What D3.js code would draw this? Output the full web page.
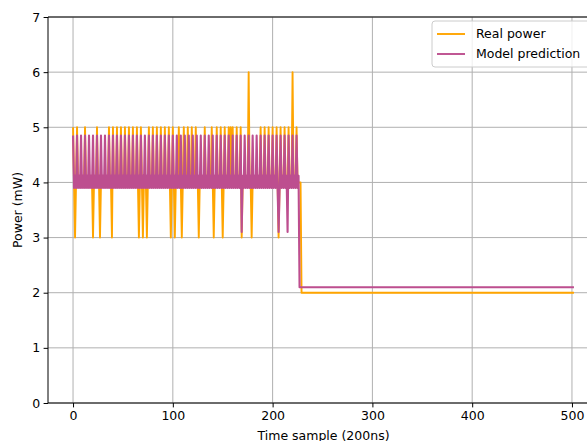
<!DOCTYPE html>
<html>
<head>
<meta charset="utf-8">
<script src="https://cdn.jsdelivr.net/npm/d3@7"></script>
<style>
  html, body { margin: 0; padding: 0; background: #fff; }
  svg { display: block; }
  text { font-family: "DejaVu Sans", sans-serif; }
</style>
</head>
<body>
<div id="chart"></div>
<script>
// ---- Data ----
// Real power, samples 0..228 (one value per sample)
const realPowerHead = [
  5,4,3,4,5,4,4,4,4,4,4,4,5,4,4,4,4,4,4,4,
  3,4,4,4,5,4,4,3,4,4,4,4,4,4,4,4,5,4,4,3,
  5,4,4,4,5,4,4,4,5,4,4,4,5,4,4,4,5,4,4,4,
  5,4,4,4,5,4,3,4,5,4,3,4,4,4,3,4,5,4,4,4,
  5,4,4,4,5,4,4,4,5,4,4,4,5,4,4,4,5,4,3,4,
  5,4,3,4,4,4,5,4,4,3,4,5,4,4,4,5,4,4,4,5,
  4,4,4,5,4,4,3,4,4,4,4,4,5,4,4,4,4,4,4,5,
  4,3,4,4,5,4,4,4,5,4,3,4,5,4,4,4,5,4,5,4,
  5,4,4,4,5,4,4,4,5,3,4,4,4,4,4,4,6,4,4,3,
  4,4,4,4,4,4,4,4,5,4,4,4,5,4,4,4,5,4,4,4,
  5,4,4,4,5,4,3,4,5,4,4,4,5,4,4,4,5,4,4,4,
  6,4,4,4,5,4,4,4,4
];
// Real power after the drop (sample index, value)
const realTailX = [229, 502];
const realTailY = [2, 2];

// Model prediction, samples 0..226
const modelHead = [
  4.85,3.9,4.12,3.9,4.85,3.9,4.12,3.9,4.85,3.9,4.12,3.9,4.85,3.9,4.12,3.9,
  4.85,3.9,4.12,3.9,4.85,3.9,4.12,3.9,4.85,3.9,4.12,3.9,4.85,3.9,4.12,3.9,
  4.85,3.9,4.12,3.9,4.85,3.9,4.12,3.9,4.85,3.9,4.12,3.9,4.85,3.9,4.12,3.9,
  4.85,3.9,4.12,3.9,4.85,3.9,4.12,3.9,4.85,3.9,4.12,3.9,4.85,3.9,4.12,3.9,
  4.85,3.9,4.12,3.9,4.85,3.9,4.12,3.9,4.85,3.9,4.12,3.9,4.85,3.9,4.12,3.9,
  4.85,3.9,4.12,3.9,4.85,3.9,4.12,3.9,4.85,3.9,4.12,3.9,4.85,3.9,4.12,3.9,
  4.85,3.9,4.12,3.9,4.85,3.9,4.12,3.9,4.85,3.9,4.12,3.9,4.85,3.9,4.12,3.9,
  4.85,3.9,4.12,3.9,4.85,3.9,4.12,3.9,4.85,3.9,4.12,3.9,4.85,3.9,4.12,3.9,
  4.85,3.9,4.12,3.9,4.85,3.9,4.12,3.9,4.85,3.9,4.12,3.9,4.85,3.9,4.12,3.9,
  4.85,3.9,4.12,3.9,4.85,3.9,4.12,3.9,4.85,3.9,4.12,3.9,4.85,3.9,4.12,3.9,
  4.85,3.9,4.12,3.9,4.85,3.9,4.12,3.9,4.85,3.1,4.12,3.9,4.85,3.9,4.12,3.9,
  4.85,3.9,4.12,3.9,4.85,3.9,4.12,3.9,4.85,3.9,4.12,3.9,4.85,3.9,4.12,3.9,
  4.85,3.9,4.12,3.9,4.85,3.9,4.12,3.9,4.85,3.9,4.12,3.9,4.85,3.9,3.1,3.9,
  4.85,3.9,4.12,3.9,4.85,3.9,4.12,3.1,4.85,3.9,4.12,3.9,4.85,3.9,4.12,3.9,
  4.85,3.9,4.12
];
const modelTailX = [227, 502];
const modelTailY = [2.1, 2.1];

const xTicks = [0, 100, 200, 300, 400, 500];
const yTicks = [0, 1, 2, 3, 4, 5, 6, 7];
const seriesNames = ["Real power", "Model prediction"];
const seriesColors = ["#ffa500", "#bd4e8f"];

// ---- Build point lists ----
const realPts = realPowerHead.map((v, i) => [i, v])
  .concat(realTailX.map((xv, i) => [xv, realTailY[i]]));
const modelPts = modelHead.map((v, i) => [i, v])
  .concat(modelTailX.map((xv, i) => [xv, modelTailY[i]]));

// ---- Layout ----
const W = 587, H = 441;
const pL = 48, pR = 599, pT = 17, pB = 403;

const x = d3.scaleLinear().domain([-25.1, 527.1]).range([pL, pR]);
const y = d3.scaleLinear().domain([0, 7]).range([pB, pT]);

const svg = d3.select("#chart").append("svg")
  .attr("width", W).attr("height", H);

svg.append("defs").append("clipPath").attr("id", "clip")
  .append("rect").attr("x", pL).attr("y", pT)
  .attr("width", pR - pL).attr("height", pB - pT);

// Grid
const grid = svg.append("g");
grid.selectAll(".gx").data(xTicks).enter().append("line")
  .attr("x1", d => x(d)).attr("x2", d => x(d))
  .attr("y1", pT).attr("y2", pB)
  .attr("stroke", "#b0b0b0").attr("stroke-width", 1);
grid.selectAll(".gy").data(yTicks).enter().append("line")
  .attr("x1", pL).attr("x2", pR)
  .attr("y1", d => y(d)).attr("y2", d => y(d))
  .attr("stroke", "#b0b0b0").attr("stroke-width", 1);

// Lines
const line = d3.line().x(d => x(d[0])).y(d => y(d[1]));
const plot = svg.append("g").attr("clip-path", "url(#clip)");
plot.append("path").datum(realPts).attr("d", line)
  .attr("fill", "none").attr("stroke", seriesColors[0])
  .attr("stroke-width", 1.9).attr("stroke-linejoin", "round");
plot.append("path").datum(modelPts).attr("d", line)
  .attr("fill", "none").attr("stroke", seriesColors[1])
  .attr("stroke-width", 2.1).attr("stroke-linejoin", "round");

// Axes
const xAxis = d3.axisBottom(x).tickValues(xTicks).tickSize(4.4).tickPadding(3.5)
  .tickFormat(d3.format("d"));
const yAxis = d3.axisLeft(y).tickValues(yTicks).tickSize(4.4).tickPadding(3.5)
  .tickFormat(d3.format("d"));
const gx = svg.append("g").attr("transform", `translate(0,${pB})`).call(xAxis);
const gy = svg.append("g").attr("transform", `translate(${pL},0)`).call(yAxis);
[gx, gy].forEach(g => {
  g.selectAll("text").attr("font-size", "12.5px").attr("fill", "#000")
    .attr("font-family", "DejaVu Sans, sans-serif");
  g.selectAll("line").attr("stroke", "#000").attr("stroke-width", 1);
  g.select(".domain").attr("stroke", "#000").attr("stroke-width", 1);
});
gx.select(".domain").attr("d", `M${pL},0H${pR}`);
gy.select(".domain").attr("d", `M0,${pB}V${pT}`);

// top spine
svg.append("line").attr("x1", pL).attr("x2", pR)
  .attr("y1", pT).attr("y2", pT).attr("stroke", "#000").attr("stroke-width", 1);

// Axis labels
svg.append("text").attr("x", (pL + pR) / 2).attr("y", 440)
  .attr("text-anchor", "middle").attr("font-size", "12.5px").attr("fill", "#000")
  .text("Time sample (200ns)");
svg.append("text")
  .attr("transform", `translate(22,${(pT + pB) / 2}) rotate(-90)`)
  .attr("text-anchor", "middle").attr("font-size", "12.5px").attr("fill", "#000")
  .text("Power (mW)");

// Legend
const lg = svg.append("g");
lg.append("rect").attr("x", 432).attr("y", 21).attr("width", 161).attr("height", 46)
  .attr("rx", 3).attr("fill", "#fff").attr("fill-opacity", 0.8)
  .attr("stroke", "#cccccc").attr("stroke-width", 1);
seriesNames.forEach((name, i) => {
  const yy = 34 + i * 20;
  lg.append("line").attr("x1", 437).attr("x2", 465).attr("y1", yy).attr("y2", yy)
    .attr("stroke", seriesColors[i]).attr("stroke-width", 1.9);
  lg.append("text").attr("x", 476).attr("y", yy).attr("dy", "0.35em")
    .attr("font-size", "12.5px").attr("fill", "#000").text(name);
});
</script>
</body>
</html>
